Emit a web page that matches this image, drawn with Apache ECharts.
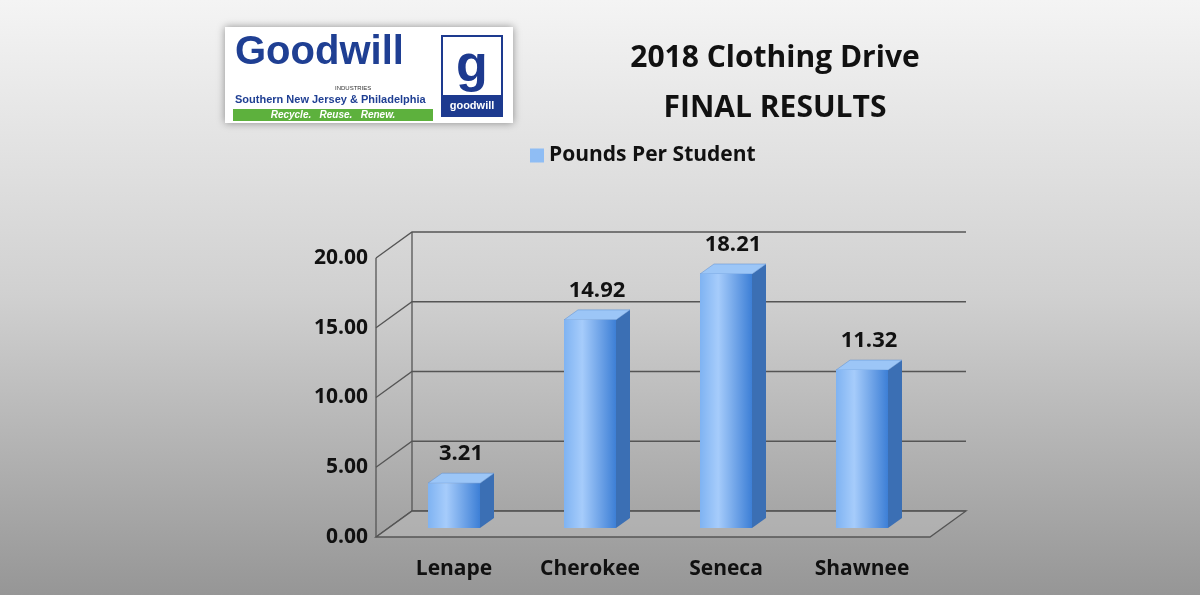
<!DOCTYPE html>
<html><head><meta charset="utf-8">
<script src="https://cdn.jsdelivr.net/npm/echarts@6/dist/echarts.min.js"></script>
<style>html,body{margin:0;padding:0}#c{width:1200px;height:595px}</style>
</head><body><div id="c"></div>
<script>
var categories = ['Lenape', 'Cherokee', 'Seneca', 'Shawnee'];
var values = [3.21, 14.92, 18.21, 11.32];
var ticks = [0, 5, 10, 15, 20];
var seriesName = 'Pounds Per Student';

var chart = echarts.init(document.getElementById('c'));
var F = 'Open Sans, Lato, sans-serif';
var WALL_DX = 36, WALL_DY = -26, BAR_DX = 14, BAR_DY = -10, BAR_W = 52, BAR_LIFT = 9;

function barRender(params, api) {
  var p = api.coord([api.value(0), api.value(1)]);
  var b = api.coord([api.value(0), 0]);
  p = [p[0], p[1] - BAR_LIFT]; b = [b[0], b[1] - BAR_LIFT];
  var x0 = p[0] - BAR_W / 2, x1 = p[0] + BAR_W / 2;
  var front = new echarts.graphic.LinearGradient(0, 0, 1, 0, [
    {offset: 0, color: '#7fb3f2'}, {offset: 0.35, color: '#a6ccfb'}, {offset: 1, color: '#3d7fd6'}]);
  return {type: 'group', children: [
    {type: 'polygon', shape: {points: [[x1, p[1]], [x1 + BAR_DX, p[1] + BAR_DY], [x1 + BAR_DX, b[1] + BAR_DY], [x1, b[1]]]},
      style: {fill: '#3b6fb4'}},
    {type: 'polygon', shape: {points: [[x0, p[1]], [x0 + BAR_DX, p[1] + BAR_DY], [x1 + BAR_DX, p[1] + BAR_DY], [x1, p[1]]]},
      style: {fill: '#9cc6f7', stroke: '#5d8fd0', lineWidth: 0.5}},
    {type: 'rect', shape: {x: x0, y: p[1], width: BAR_W, height: b[1] - p[1]}, style: {fill: front}},
    {type: 'text', x: p[0] + BAR_DX / 2, y: p[1] + BAR_DY - 8,
      style: {text: api.value(1).toFixed(2), font: 'bold 22px ' + F, fill: '#111', align: 'center', verticalAlign: 'bottom'}}
  ]};
}

function wallRender(params, api) {
  var cs = params.coordSys;
  var y = api.coord([0, api.value(0)])[1];
  var left = cs.x - 10, right = cs.x + cs.width;
  var ch = [
    {type: 'polyline', shape: {points: [[left, y], [left + WALL_DX, y + WALL_DY], [right + WALL_DX, y + WALL_DY]]},
      style: {stroke: '#555', lineWidth: 1.3, fill: null}}
  ];
  if (api.value(0) === 0) {
    ch.push({type: 'polygon', shape: {points: [[left, y], [left + WALL_DX, y + WALL_DY], [right + WALL_DX, y + WALL_DY], [right, y]]},
      style: {fill: 'rgba(190,190,190,0.5)', stroke: '#555', lineWidth: 1.3}});
    ch.push({type: 'line', shape: {x1: left + WALL_DX, y1: y + WALL_DY, x2: left + WALL_DX, y2: api.coord([0, 20])[1] + WALL_DY}, style: {stroke: '#555', lineWidth: 1.3}});
    ch.push({type: 'line', shape: {x1: left, y1: y, x2: left, y2: api.coord([0, 20])[1]}, style: {stroke: '#555', lineWidth: 1.3}});
  }
  return {type: 'group', children: ch};
}

chart.setOption({
  backgroundColor: new echarts.graphic.LinearGradient(0, 0, 0, 1, [
    {offset: 0, color: '#f4f4f4'}, {offset: 0.5, color: '#d0d0d0'}, {offset: 1, color: '#969696'}]),
  animation: false,
  title: {text: '2018 Clothing Drive\nFINAL RESULTS', left: 770, top: 28, textAlign: 'center',
    textStyle: {fontFamily: F, fontSize: 30, fontWeight: 'bold', color: '#111', lineHeight: 50}},
  legend: {top: 140, left: 525, itemWidth: 14, itemHeight: 14, icon: 'rect',
    textStyle: {fontFamily: F, fontSize: 21, fontWeight: 'bold', color: '#111'}, data: [seriesName]},
  grid: {left: 386, right: 270, top: 258, bottom: 58},
  xAxis: {type: 'category', data: categories, axisLine: {show: false}, axisTick: {show: false},
    axisLabel: {margin: 22, fontFamily: F, fontSize: 21, fontWeight: 'bold', color: '#111'}},
  yAxis: {type: 'value', min: 0, max: 20, interval: 5, splitLine: {show: false},
    axisLabel: {margin: 18, fontFamily: F, fontSize: 21, fontWeight: 'bold', color: '#111', formatter: function (v) { return v.toFixed(2); }}},
  series: [
    {type: 'custom', renderItem: wallRender, data: ticks.map(function (t) { return [t]; }), encode: {y: 0}, silent: true, z: 1},
    {type: 'custom', name: seriesName, renderItem: barRender, itemStyle: {color: '#8fbdf4'},
      data: categories.map(function (c, i) { return [i, values[i]]; }), encode: {x: 0, y: 1}, z: 2}
  ],
  graphic: [
    {type: 'group', left: 225, top: 27, children: [
      {type: 'rect', shape: {x: 0, y: 0, width: 288, height: 96}, style: {fill: '#fff', shadowBlur: 8, shadowColor: 'rgba(0,0,0,0.4)'}},
      {type: 'text', x: 10, y: 6, style: {text: 'Goodwill', font: 'bold 40px Arial, Liberation Sans', fill: '#1f3f93'}},
      {type: 'text', x: 110, y: 58, style: {text: 'INDUSTRIES', font: '6px Arial', fill: '#333'}},
      {type: 'text', x: 10, y: 67, style: {text: 'Southern New Jersey & Philadelphia', font: 'bold 11px Arial', fill: '#1f3f93'}},
      {type: 'rect', shape: {x: 8, y: 82, width: 200, height: 12}, style: {fill: '#5db13d'}},
      {type: 'text', x: 108, y: 88, style: {text: 'Recycle.   Reuse.   Renew.', font: 'bold italic 10px Arial', fill: '#fff', align: 'center', verticalAlign: 'middle'}},
      {type: 'rect', shape: {x: 216, y: 8, width: 62, height: 82}, style: {fill: '#1d3a8f'}},
      {type: 'rect', shape: {x: 218, y: 10, width: 58, height: 58}, style: {fill: '#fff'}},
      {type: 'text', x: 247, y: 40, style: {text: 'g', font: 'bold 52px Arial', fill: '#1d3a8f', align: 'center', verticalAlign: 'middle'}},
      {type: 'text', x: 247, y: 79, style: {text: 'goodwill', font: 'bold 11px Arial', fill: '#fff', align: 'center', verticalAlign: 'middle'}}
    ]}
  ]
});
</script></body></html>
